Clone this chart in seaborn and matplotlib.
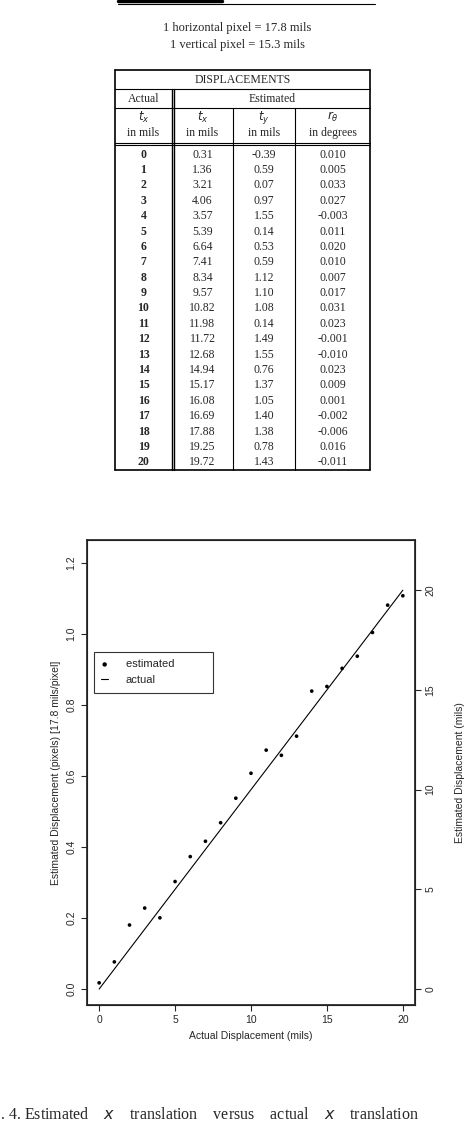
import matplotlib
matplotlib.use("Agg")
import matplotlib.pyplot as plt
import seaborn as sns
import numpy as np
import pandas as pd

actual = list(range(21))
est_tx = [0.31,1.36,3.21,4.06,3.57,5.39,6.64,7.41,8.34,9.57,10.82,11.98,11.72,12.68,14.94,15.17,16.08,16.69,17.88,19.25,19.72]
est_ty = [-0.39,0.59,0.07,0.97,1.55,0.14,0.53,0.59,1.12,1.10,1.08,0.14,1.49,1.55,0.76,1.37,1.05,1.40,1.38,0.78,1.43]
est_r = ["0.010","0.005","0.033","0.027","-0.003","0.011","0.020","0.010","0.007","0.017","0.031","0.023","-0.001","-0.010","0.023","0.009","0.001","-0.002","-0.006","0.016","-0.011"]
mils_per_px = 17.8

sns.set_theme(style="ticks")
plt.rcParams['font.family'] = ['Liberation Sans', 'DejaVu Sans']
W, H = 474, 1129
fig = plt.figure(figsize=(W/100, H/100), dpi=100)
serif = ['Liberation Serif', 'DejaVu Serif']

def fx(x): return x / W
def fy(y): return 1 - y / H

fig.add_artist(plt.Line2D([fx(118), fx(375)], [fy(4), fy(4)], color='black', lw=0.8))
fig.add_artist(plt.Line2D([fx(118), fx(222)], [fy(1), fy(1)], color='black', lw=2.5))
fig.text(0.5, fy(28), "1 horizontal pixel = 17.8 mils", ha='center', va='center', family=serif, fontsize=9)
fig.text(0.5, fy(45), "1 vertical pixel = 15.3 mils", ha='center', va='center', family=serif, fontsize=9)

L, R, T, B = 115, 370, 70, 470
cols = [L, 172, 233, 295, R]
def hl(y, x0=L, x1=R, lw=0.8):
    fig.add_artist(plt.Line2D([fx(x0), fx(x1)], [fy(y), fy(y)], color='black', lw=lw))
def vl(x, y0, y1, lw=0.8):
    fig.add_artist(plt.Line2D([fx(x), fx(x)], [fy(y0), fy(y1)], color='black', lw=lw))
hl(T, lw=1.2); hl(B, lw=1.2); hl(89); hl(108); hl(143); hl(145)
vl(L, T, B, 1.2); vl(R, T, B, 1.2)
vl(172, 89, B, 1.0); vl(174, 89, B, 1.0)
vl(233, 108, B); vl(295, 108, B)
fs = 8.5
fig.text(fx((L+R)/2), fy(80), "DISPLACEMENTS", ha='center', va='center', family=serif, fontsize=fs)
fig.text(fx((L+172)/2), fy(98.5), "Actual", ha='center', va='center', family=serif, fontsize=fs)
fig.text(fx((174+R)/2), fy(98.5), "Estimated", ha='center', va='center', family=serif, fontsize=fs)
hdr = [(r"$t_x$", "in mils"), (r"$t_x$", "in mils"), (r"$t_y$", "in mils"), (r"$r_\theta$", "in degrees")]
for i, (a, b) in enumerate(hdr):
    cx = (cols[i] + cols[i+1]) / 2
    fig.text(fx(cx), fy(117), a, ha='center', va='center', fontsize=fs)
    fig.text(fx(cx), fy(133), b, ha='center', va='center', family=serif, fontsize=fs)
rh = (B - 147) / 21
for k in range(21):
    y = 147 + rh * (k + 0.5)
    vals = [str(actual[k]), f"{est_tx[k]:.2f}", f"{est_ty[k]:.2f}", est_r[k]]
    for i, v in enumerate(vals):
        cx = (cols[i] + cols[i+1]) / 2
        fig.text(fx(cx), fy(y), v, ha='center', va='center', family=serif, fontsize=fs,
                 fontweight='bold' if i == 0 else 'normal')

aL, aR, aT, aB = 87, 415, 540, 1005
ax = fig.add_axes([fx(aL), fy(aB), (aR-aL)/W, (aB-aT)/H])
df = pd.DataFrame({"actual": actual, "est": np.array(est_tx) / mils_per_px,
                   "line": np.array(actual) / mils_per_px})
sns.scatterplot(data=df, x="actual", y="est", ax=ax, color='black', s=7, marker='o',
                edgecolor='none', label='estimated          ')
sns.lineplot(data=df, x="actual", y="line", ax=ax, color='black', lw=0.8, label='actual')
ax.set_xlim(-0.8, 20.8)
ylo, yhi = -0.045, 1.265
ax.set_ylim(ylo, yhi)
ax.set_xticks([0, 5, 10, 15, 20])
ax.set_yticks([0, 0.2, 0.4, 0.6, 0.8, 1.0, 1.2])
ax.set_yticklabels(["0.0", "0.2", "0.4", "0.6", "0.8", "1.0", "1.2"], rotation=90, va='center')
ax.tick_params(labelsize=7.5, length=4, width=0.8)
ax.set_xlabel("Actual Displacement (mils)", fontsize=7.5)
ax.set_ylabel("Estimated Displacement (pixels) [17.8 mils/pixel]", fontsize=7.5)
for s in ax.spines.values():
    s.set_linewidth(0.8); s.set_color('black')
leg = ax.legend(loc='upper left', bbox_to_anchor=(0.02, 0.76), fontsize=8, frameon=True,
                fancybox=False, edgecolor='black', handlelength=0.6, handletextpad=1.6,
                borderpad=0.7, markerscale=1.2, borderaxespad=0)
leg.get_frame().set_linewidth(0.8)
ax2 = ax.twinx()
ax2.set_ylim(ylo * mils_per_px, yhi * mils_per_px)
ax2.set_yticks([0, 5, 10, 15, 20])
ax2.set_yticklabels(["0", "5", "10", "15", "20"], rotation=90, va='center')
ax2.tick_params(labelsize=7.5, length=4, width=0.8)
ax2.set_ylabel("Estimated Displacement (mils)", fontsize=7.5, labelpad=14)
fig.text(fx(0), fy(1115), ". 4. Estimated    $x$    translation    versus    actual    $x$    translation",
         ha='left', va='center', family=serif, fontsize=11.5)
fig.savefig("out.png", dpi=100, facecolor='white')
